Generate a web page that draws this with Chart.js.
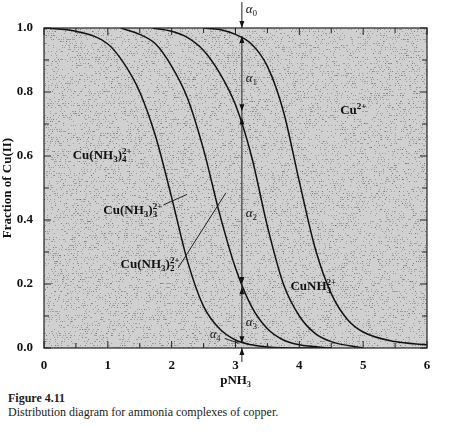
<!DOCTYPE html>
<html><head><meta charset="utf-8">
<script src="https://cdn.jsdelivr.net/npm/chart.js@4"></script>
<style>
body{margin:0;background:#fff;font-family:"Liberation Serif",serif;}
#wrap{position:absolute;left:0;top:0;width:475px;height:388px;}
#cap{position:absolute;left:8px;top:391px;font-size:12px;color:#222;line-height:14px;}
</style></head><body>
<div id="wrap"><canvas id="c"></canvas></div>
<div id="cap"><b>Figure 4.11</b><br>Distribution diagram for ammonia complexes of copper.</div>
<script>
const xs1=[0,0.5,1,1.25,1.5,1.75,2,2.25,2.5,2.75,3,3.25,3.5,4,4.5];
const ys1=[1.0,0.99,0.95,0.89,0.8,0.66,0.47,0.27,0.13,0.06,0.025,0.01,0.003,0,0];
const xs2=[1.2,1.5,1.75,2,2.25,2.5,2.75,3,3.25,3.5,3.75,4,4.5];
const ys2=[1.0,0.98,0.95,0.88,0.78,0.62,0.42,0.25,0.13,0.06,0.025,0.01,0.0];
const xs3=[1.7,2,2.25,2.5,2.75,3,3.25,3.5,3.75,4,4.25,4.5,5];
const ys3=[1.0,0.99,0.97,0.93,0.86,0.76,0.6,0.38,0.2,0.1,0.045,0.02,0.0];
const xs4=[2.5,2.75,3,3.25,3.5,3.75,4,4.25,4.5,4.75,5,5.5,6];
const ys4=[1.0,0.995,0.98,0.95,0.88,0.74,0.52,0.31,0.17,0.09,0.05,0.02,0.01];
const xTicks=[0,1,2,3,4,5,6];
const yTicks=[0,0.2,0.4,0.6,0.8,1.0];
const mk=(xs,ys)=>xs.map((x,i)=>({x:x,y:ys[i]}));
const ds=[[xs1,ys1],[xs2,ys2],[xs3,ys3],[xs4,ys4]].map(a=>({data:mk(a[0],a[1]),borderColor:'#111',borderWidth:1.5,pointRadius:0,cubicInterpolationMode:'monotone',fill:false}));
function rich(ctx,x,y,parts,size){
  ctx.textBaseline='alphabetic';ctx.textAlign='left';
  for(const p of parts){
    const [t,m]=p;
    if(m==='n'){ctx.font='bold '+size+'px "Liberation Serif"';ctx.fillText(t,x,y);x+=ctx.measureText(t).width;}
    else if(m==='sub'){ctx.font='bold '+(size*0.7)+'px "Liberation Serif"';ctx.fillText(t,x,y+3);x+=ctx.measureText(t).width;}
    else if(m==='sup'){ctx.font='bold '+(size*0.7)+'px "Liberation Serif"';ctx.fillText(t,x,y-5);x+=ctx.measureText(t).width;}
    else if(m==='ss'){ctx.font='bold '+(size*0.7)+'px "Liberation Serif"';ctx.fillText(t[0],x,y-5);ctx.fillText(t[1],x,y+3);x+=Math.max(ctx.measureText(t[0]).width,ctx.measureText(t[1]).width);}
    else if(m==='g'){ctx.font='italic '+size+'px "Liberation Serif"';ctx.fillText(t[0],x,y);x+=ctx.measureText(t[0]).width;ctx.font=(size*0.7)+'px "Liberation Serif"';ctx.fillText(t[1],x,y+3);}
  }
}
function arrow(ctx,x,y,dir){ctx.beginPath();ctx.moveTo(x,y);ctx.lineTo(x-2.5,y-7*dir);ctx.lineTo(x+2.5,y-7*dir);ctx.closePath();ctx.fill();}
const deco={id:'deco',
beforeDatasetsDraw(ch){const {ctx,chartArea:a}=ch;ctx.save();ctx.fillStyle='#d0d0d0';const W=Math.round(a.right-a.left),H=Math.round(a.bottom-a.top);ctx.fillRect(a.left,a.top,W,H);
 ctx.fillStyle='rgba(80,80,80,0.4)';let s=12345;
 for(let i=0;i<14000;i++){s=(Math.imul(s,1103515245)+12345)>>>0;const px=s%W;s=(Math.imul(s,1103515245)+12345)>>>0;const py=s%H;ctx.fillRect(a.left+px,a.top+py,1,1);}
 ctx.restore();},
afterDatasetsDraw(ch){const {ctx,chartArea:a,scales:{x,y}}=ch;ctx.save();ctx.strokeStyle='#222';ctx.fillStyle='#111';ctx.lineWidth=1.2;
 ctx.strokeRect(a.left,a.top,a.right-a.left,a.bottom-a.top);
 ctx.lineWidth=1;ctx.beginPath();
 for(let v=0;v<=6.001;v+=0.5){const px=x.getPixelForValue(v);const L=v%1===0?7:5;ctx.moveTo(px,a.bottom);ctx.lineTo(px,a.bottom-L);ctx.moveTo(px,a.top);ctx.lineTo(px,a.top+L);}
 for(let v=0;v<=1.001;v+=0.1){const py=y.getPixelForValue(v);const L=Math.round(v*10)%2===0?7:5;ctx.moveTo(a.left,py);ctx.lineTo(a.left+L,py);ctx.moveTo(a.right,py);ctx.lineTo(a.right-L,py);}
 ctx.stroke();
 const vx=x.getPixelForValue(3.1);
 ctx.beginPath();ctx.moveTo(vx,y.getPixelForValue(0.975));ctx.lineTo(vx,y.getPixelForValue(0.015));
 ctx.moveTo(vx,a.top-26);ctx.lineTo(vx,a.top);ctx.moveTo(vx,a.bottom);ctx.lineTo(vx,a.bottom+14);ctx.stroke();
 arrow(ctx,vx,a.top,1);arrow(ctx,vx,a.bottom,-1);
 [[0.975,-1],[0.74,1],[0.72,-1],[0.2,1],[0.19,-1],[0.015,1]].forEach(p=>arrow(ctx,vx,y.getPixelForValue(p[0]),p[1]));
 const P=(a1,b1)=>[x.getPixelForValue(a1),y.getPixelForValue(b1)];
 ctx.beginPath();let p=P(1.87,0.447);ctx.moveTo(...p);p=P(2.24,0.48);ctx.lineTo(...p);
 p=P(2.1,0.25);ctx.moveTo(...p);p=P(2.85,0.485);ctx.lineTo(...p);
 p=P(2.83,0.03);ctx.moveTo(...p);p=P(3.05,0.015);ctx.lineTo(...p);ctx.stroke();
 ctx.fillStyle='#111';
 rich(ctx,...P(0.45,0.59),[['Cu(NH','n'],['3','sub'],[')','n'],[['2+','4'],'ss']],13);
 rich(ctx,...P(0.93,0.42),[['Cu(NH','n'],['3','sub'],[')','n'],[['2+','3'],'ss']],13);
 rich(ctx,...P(1.2,0.25),[['Cu(NH','n'],['3','sub'],[')','n'],[['2+','2'],'ss']],13);
 rich(ctx,...P(3.86,0.18),[['CuNH','n'],[['2+','3'],'ss']],13);
 rich(ctx,...P(4.64,0.73),[['Cu','n'],['2+','sup']],13);
 const gx=x.getPixelForValue(3.16);
 rich(ctx,gx,a.top-15,[[['α','0'],'g']],13);
 rich(ctx,gx,y.getPixelForValue(0.83),[[['α','1'],'g']],13);
 rich(ctx,gx,y.getPixelForValue(0.41),[[['α','2'],'g']],13);
 rich(ctx,gx,y.getPixelForValue(0.07),[[['α','3'],'g']],13);
 rich(ctx,...P(2.6,0.03),[[['α','4'],'g']],12);
 ctx.restore();}};
new Chart(document.getElementById('c'),{type:'line',data:{datasets:ds},plugins:[deco],
options:{responsive:true,maintainAspectRatio:false,animation:false,
layout:{padding:{top:28,right:48,left:0,bottom:0}},
plugins:{legend:{display:false},tooltip:{enabled:false}},
scales:{
x:{type:'linear',min:0,max:6,grid:{display:false},border:{display:false},
 afterFit(s){s.height=40;},
 afterBuildTicks(s){s.ticks=xTicks.map(v=>({value:v}));},
 ticks:{color:'#111',padding:2,font:{family:'Liberation Serif',weight:'bold',size:13}},
 title:{display:true,text:'pNH₃',color:'#111',padding:0,font:{family:'Liberation Serif',weight:'bold',size:13}}},
y:{min:0,max:1,grid:{display:false},border:{display:false},
 afterFit(s){s.width=44;},
 afterBuildTicks(s){s.ticks=yTicks.map(v=>({value:v}));},
 ticks:{color:'#111',padding:3,callback:v=>v.toFixed(1),font:{family:'Liberation Serif',weight:'bold',size:13}},
 title:{display:true,text:'Fraction of Cu(II)',color:'#111',padding:0,font:{family:'Liberation Serif',weight:'bold',size:13}}}}}});
</script></body></html>
